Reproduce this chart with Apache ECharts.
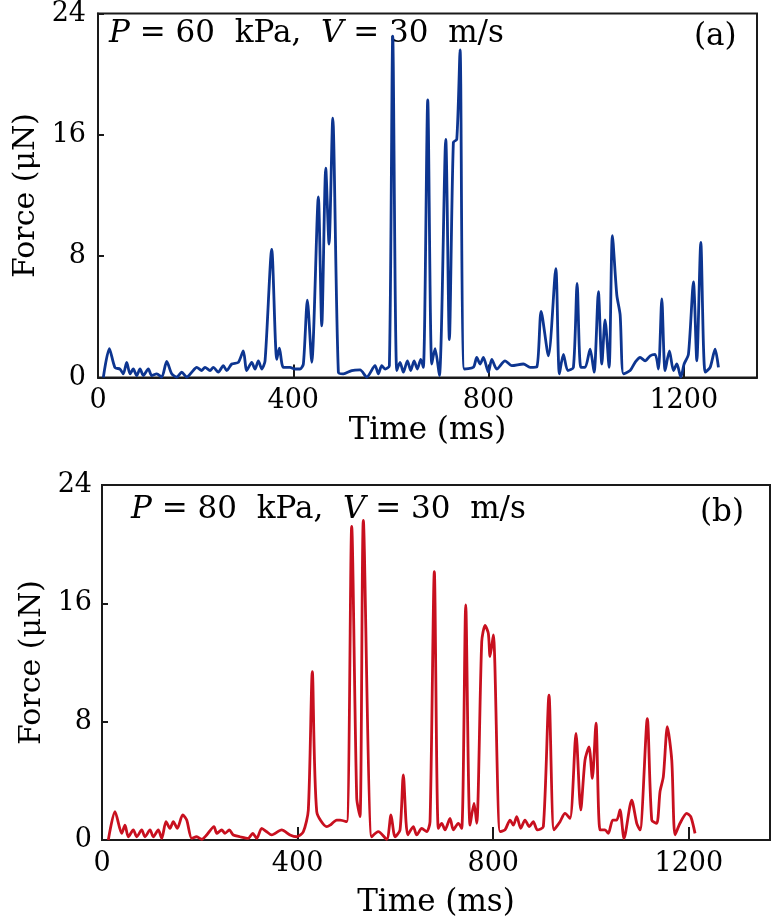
<!DOCTYPE html>
<html>
<head>
<meta charset="utf-8">
<script src="https://cdn.jsdelivr.net/npm/echarts@6/dist/echarts.min.js"></script>
<style>
  html, body { margin: 0; padding: 0; background: #fff; }
  #chart { width: 773px; height: 923px; }
</style>
</head>
<body>
<div id="chart"></div>
<script>
// (a) P = 60 kPa
const timeA = [10.9, 23.2, 34.8, 45.1, 51.8, 58.8, 65.6, 72.3, 79.3, 86.1, 92.8, 103.1, 110, 120.3, 130.5, 140.8, 151, 161.3, 171.5, 181.7,
  192, 202.2, 212.5, 219.2, 229.5, 236.3, 246.5, 256.7, 263.7, 274, 287.5, 297.7, 304.7, 314.9, 321.7, 328.5, 335.4, 342.2, 355.9, 366.2,
  371.5, 379.7, 393.4, 403.7, 413.9, 420.7, 428.9, 437.9, 451.4, 458.4, 466.6, 473.3, 480.9, 492.4, 502.6, 519.8, 536.8, 550.6, 567.6, 574.3,
  581.3, 588.1, 596.9, 603.8, 612, 618.8, 625.6, 633.8, 640.7, 647.5, 654.2, 661.2, 666.5, 675.5, 683.7, 690.5, 699.3, 712.4, 719.8, 728,
  735, 741.7, 750.5, 769, 775.9, 782.7, 789.5, 799.7, 806.7, 816.9, 833.9, 847.7, 871.4, 885.2, 898.9, 907.7, 922.7, 937.8, 945.2, 953.4,
  962.4, 973.9, 981.5, 989, 997.9, 1008.1, 1016.3, 1025.1, 1032.1, 1038.8, 1047, 1053.8, 1062.8, 1069.6, 1076.4, 1090.1, 1100.3, 1110.6, 1120.8, 1131.1,
  1141.3, 1148.1, 1155, 1161.8, 1170.6, 1178.8, 1185.8, 1194, 1200.7, 1209.5, 1219.8, 1226.7, 1234.9, 1243.7, 1254, 1264.2, 1271];
const forceA = [0, 1.9, 0.65, 0.56, 0.24, 1.0, 0.24, 0.56, 0.13, 0.56, 0.13, 0.56, 0.13, 0.24, 0.03, 1.06, 0.24, 0.03, 0.35, 0.03,
  0.35, 0.67, 0.46, 0.67, 0.46, 0.67, 0.35, 0.78, 0.46, 0.89, 1.0, 1.76, 0.46, 1.0, 0.56, 1.1, 0.56, 1.1, 8.44, 1.2,
  1.93, 0.67, 0.67, 0.56, 0.56, 0.89, 5.1, 1.0, 11.9, 3.4, 13.8, 8.8, 17.1, 0.35, 0.24, 0.46, 0.5, 0.03, 0.78, 0.24,
  0.78, 0.56, 0.78, 22.5, 0.46, 1.0, 0.35, 1.1, 0.46, 1.1, 0.56, 1.2, 0.67, 18.3, 0.89, 1.9, 0.13, 15.7, 2.5, 15.5,
  15.7, 21.6, 0.56, 0.67, 1.32, 0.89, 1.32, 0.35, 1.2, 0.56, 1.1, 0.78, 0.89, 0.67, 0.7, 4.36, 1.43, 7.18, 0.24, 1.52,
  0.46, 0.67, 6.2, 0.67, 0.67, 1.87, 0.35, 5.66, 0.89, 3.8, 0.67, 9.35, 5.44, 4.14, 0.24, 0.46, 1.0, 1.32, 1.1, 1.43,
  1.52, 0.56, 5.18, 0.46, 1.76, 0.46, 0.89, 0.03, 0.89, 1.52, 6.3, 1.1, 8.9, 0.35, 0.67, 1.87, 0.67];

// (b) P = 80 kPa
const timeB = [12.9, 26.6, 40.3, 47, 53.8, 64, 71, 81.2, 87.9, 98.2, 104.9, 115.1, 122.1, 130.9, 139.1, 145.8, 154, 165, 173.2, 183.4,
  193.7, 203.9, 214.1, 229, 234.6, 244.8, 251.5, 260.3, 268.5, 282.2, 299.2, 308.2, 316.4, 326.6, 336.8, 347, 367.5, 384.5, 398.2, 411.7,
  421.9, 430.1, 439.1, 459.5, 466.3, 480, 486.7, 500.4, 510.6, 520.9, 527.6, 534.4, 551.5, 565, 582.2, 591, 599.2, 609.4, 616.2, 625.2,
  636.6, 643.6, 653.8, 664, 670.8, 679.6, 687.7, 694.7, 701.4, 711.7, 718.4, 728.6, 735.6, 743.8, 752.6, 760.8, 766.3, 776.5, 783.3, 790,
  793.5, 800.2, 813.9, 824.1, 834.4, 841.1, 848.1, 856.3, 865, 873.8, 882, 890.2, 902.5, 914.1, 924.3, 936.6, 946.8, 957.1, 969.3, 979,
  987.7, 995.9, 1002.7, 1010.2, 1018.4, 1028.6, 1035.4, 1044.4, 1052.6, 1059.3, 1067.5, 1083.2, 1093.5, 1100.2, 1115.1, 1124.2, 1134.4, 1141.1, 1147.9, 1156.1,
  1165.1, 1171.8, 1182, 1195.7, 1203.9, 1212.7];
const forceB = [0, 1.92, 0.45, 1.0, 0.22, 0.68, 0.22, 0.68, 0.22, 0.68, 0.22, 0.68, 0.11, 1.24, 0.79, 1.24, 0.79, 1.69, 1.35, 0.11,
  0.22, 0.05, 0.34, 0.9, 0.45, 0.68, 0.45, 0.68, 0.34, 0.22, 0.11, 0.45, 0.11, 0.79, 0.56, 0.34, 0.68, 0.34, 0.22, 0.56,
  2.03, 11.38, 1.92, 0.9, 1.0, 1.35, 1.35, 1.24, 21.2, 2.82, 1.58, 21.6, 0.22, 0.56, 0.05, 1.69, 0.22, 0.68, 4.4, 0.34,
  0.9, 0.34, 0.79, 0.56, 1.24, 18.14, 0.79, 1.13, 0.68, 1.46, 0.68, 1.13, 0.79, 15.9, 1.0, 2.48, 1.13, 13.4, 14.5, 13.97,
  12.4, 13.86, 0.56, 0.68, 1.35, 1.0, 1.58, 0.79, 1.35, 0.9, 1.24, 0.68, 0.9, 9.8, 0.68, 1.24, 1.8, 1.46, 7.2, 2.03,
  5.4, 6.3, 4.17, 7.9, 0.68, 0.68, 0.45, 1.35, 1.35, 2.03, 0.11, 2.7, 1.13, 0.68, 8.2, 1.35, 1.13, 3.27, 4.28, 7.66,
  5.4, 0.34, 1.13, 1.8, 1.58, 0.45];

const xLabels = [0, 400, 800, 1200];
const xTicks = [400, 800, 1200];

const serif = 'DejaVu Serif';
const frame = '#1a1a1a';

function pairs(xs, ys) {
  return xs.map((x, i) => [x, ys[i]]);
}

function xAxisOf(idx, max, gap) {
  return {
    type: 'value', gridIndex: idx, min: 0, max: max,
    name: 'Time (ms)', nameLocation: 'middle', nameGap: gap,
    nameTextStyle: { fontFamily: serif, fontSize: 31, color: '#000' },
    axisLine: { lineStyle: { color: frame, width: 2 } },
    axisTick: { inside: true, length: 13, customValues: xTicks, lineStyle: { color: frame, width: 2 } },
    axisLabel: { customValues: xLabels, margin: 10, fontFamily: serif, fontSize: 27, color: '#000',
      formatter: v => String(v) },
    splitLine: { show: false }
  };
}

function yAxisOf(idx, gap, margin) {
  return {
    type: 'value', gridIndex: idx, min: 0, max: 24, interval: 8,
    name: 'Force (μN)', nameLocation: 'middle', nameGap: gap,
    nameTextStyle: { fontFamily: serif, fontSize: 30, color: '#000' },
    axisLine: { lineStyle: { color: frame, width: 2 } },
    axisTick: { inside: true, length: 6, lineStyle: { color: frame, width: 2 } },
    axisLabel: { margin: margin, fontFamily: serif, fontSize: 27, color: '#000' },
    splitLine: { show: false }
  };
}

const annoRich = { i: { fontStyle: 'italic', fontFamily: serif, fontSize: 31 } };

const chart = echarts.init(document.getElementById('chart'));
chart.setOption({
  animation: false,
  backgroundColor: '#fff',
  grid: [
    { left: 98, top: 9.5, width: 659, height: 368, show: true, borderColor: frame, borderWidth: 2 },
    { left: 102, top: 485, width: 668, height: 355, show: true, borderColor: frame, borderWidth: 2 }
  ],
  xAxis: [xAxisOf(0, 1350, 34), xAxisOf(1, 1366, 47)],
  yAxis: [yAxisOf(0, 57, 12), yAxisOf(1, 51, 10)],
  graphic: [
    { type: 'text', left: 109, top: 18, style: {
      text: '{i|P} = 60  kPa,  {i|V} = 30  m/s', fontFamily: serif, fontSize: 31, fill: '#000', rich: annoRich } },
    { type: 'text', left: 694, top: 21, style: { text: '(a)', fontFamily: serif, fontSize: 31, fill: '#000' } },
    { type: 'text', left: 131, top: 494, style: {
      text: '{i|P} = 80  kPa,  {i|V} = 30  m/s', fontFamily: serif, fontSize: 31, fill: '#000', rich: annoRich } },
    { type: 'text', left: 700, top: 497, style: { text: '(b)', fontFamily: serif, fontSize: 31, fill: '#000' } }
  ],
  series: [
    {
      type: 'line', xAxisIndex: 0, yAxisIndex: 0, data: pairs(timeA, forceA),
      showSymbol: false, smooth: 0.25, lineStyle: { color: '#0d3590', width: 2.8 }
    },
    {
      type: 'line', xAxisIndex: 1, yAxisIndex: 1, data: pairs(timeB, forceB),
      showSymbol: false, smooth: 0.25, lineStyle: { color: '#c8101f', width: 2.8 }
    }
  ]
});
</script>
</body>
</html>
